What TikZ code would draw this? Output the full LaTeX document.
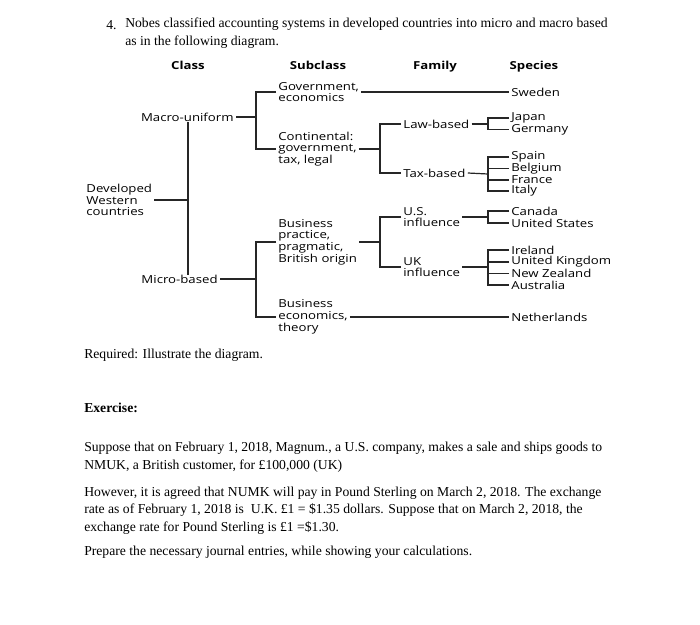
\documentclass[tikz,border=0pt]{standalone}
\usepackage{fontspec}
\setmainfont{Liberation Serif}
\newfontfamily\diag[FakeStretch=1.2]{Open Sans}
\begin{document}
\begin{tikzpicture}[x=0.75pt,y=-0.75pt,
  lbl/.style={font=\diag\fontsize{8.25}{8.8}\selectfont, align=left, inner xsep=1.6pt, inner ysep=0pt},
  hdr/.style={font=\diag\bfseries\fontsize{8.25}{9}\selectfont, inner sep=0pt, anchor=base},
  con/.style={draw=black!85, line width=0.9pt},
  txt/.style={font=\fontsize{10.25}{13.1}\selectfont, align=left, inner sep=0pt, anchor=base west}]
\useasboundingbox[fill=white] (0,0) rectangle (700,625);
% serif text
\node[txt] (num) at (106,29) {4.};
\node[txt] (title) at (125,45) {Nobes classified accounting systems in developed countries into micro and macro based\\as in the following diagram.};
\node[txt] (req) at (84,358) {Required: Illustrate the diagram.};
\node[txt,font=\bfseries\fontsize{10.25}{13.1}\selectfont] (ex) at (84,412) {Exercise:};
\node[txt] (p1) at (84,469) {Suppose that on February 1, 2018, Magnum., a U.S. company, makes a sale and ships goods to\\NMUK, a British customer, for £100,000 (UK)};
\node[txt] (p2) at (84,531) {However, it is agreed that NUMK will pay in Pound Sterling on March 2, 2018. The exchange\\rate as of February 1, 2018 is\ \ U.K. £1 = \$1.35 dollars. Suppose that on March 2, 2018, the\\exchange rate for Pound Sterling is £1 =\$1.30.};
\node[txt] (p3) at (84,555) {Prepare the necessary journal entries, while showing your calculations.};
% headers
\node[hdr] (hc) at (188,69.5) {Class};
\node[hdr] (hs) at (318,69.5) {Subclass};
\node[hdr] (hf) at (435,69.5) {Family};
\node[hdr] (hsp) at (534,69.5) {Species};
% class level
\node[lbl,anchor=west] (dev) at (84,200) {Developed\\Western\\countries};
\node[lbl,anchor=east] (macro) at (236,117) {Macro-uniform};
\node[lbl,anchor=east] (micro) at (220,279) {Micro-based};
% subclass
\node[lbl,anchor=west] (gov) at (276,92) {Government,\\economics};
\node[lbl,anchor=west] (cont) at (276,149) {Continental:\\government,\\tax, legal};
\node[lbl,anchor=west] (bpr) at (276,242) {Business\\practice,\\pragmatic,\\British origin};
\node[lbl,anchor=west] (bec) at (276,317) {Business\\economics,\\theory};
% family
\node[lbl,anchor=west] (law) at (401,124) {Law-based};
\node[lbl,anchor=west] (tax) at (401,173) {Tax-based};
\node[lbl,anchor=west] (us) at (401,217) {U.S.\\influence};
\node[lbl,anchor=west] (uk) at (401,267) {UK\\influence};
% species
\node[lbl,anchor=west] (sweden) at (509,92) {Sweden};
\node[lbl,anchor=west] (japan) at (509,118) {Japan};
\node[lbl,anchor=west] (germany) at (509,129.5) {Germany};
\node[lbl,anchor=west] (spain) at (509,157) {Spain};
\node[lbl,anchor=west] (belgium) at (509,168.5) {Belgium};
\node[lbl,anchor=west] (france) at (509,180) {France};
\node[lbl,anchor=west] (italy) at (509,191) {Italy};
\node[lbl,anchor=west] (canada) at (509,211) {Canada};
\node[lbl,anchor=west] (usa) at (509,223) {United States};
\node[lbl,anchor=west] (ireland) at (509,250) {Ireland};
\node[lbl,anchor=west] (ukd) at (509,262) {United Kingdom};
\node[lbl,anchor=west] (nz) at (509,273.5) {New Zealand};
\node[lbl,anchor=west] (aus) at (509,285) {Australia};
\node[lbl,anchor=west] (neth) at (509,317) {Netherlands};
% junction coordinates
\coordinate (c0) at (188,200);
\coordinate (s1) at (256,117);
\coordinate (s2) at (256,279);
\coordinate (f1) at (380,149);
\coordinate (f2) at (380,242);
\coordinate (b1) at (488,124);
\coordinate (b2) at (488,174);
\coordinate (b3) at (488,217);
\coordinate (b4) at (488,267);
% connectors
\draw[con] (dev.east) -- (c0);
\draw[con] (macro.south -| c0) -- (micro.north -| c0);
\draw[con] (macro.east) -- (s1);
\draw[con] (gov.west) -| (s1) |- (cont.west);
\draw[con] (micro.east) -- (s2);
\draw[con] (bpr.west) -| (s2) |- (bec.west);
\draw[con] (gov.east) -- (sweden.west);
\draw[con] (cont.east) -- (f1);
\draw[con] (law.west) -| (f1) |- (tax.west);
\draw[con] (bpr.east) -- (f2);
\draw[con] (us.west) -| (f2) |- (uk.west);
\draw[con] (bec.east) -- (neth.west);
\draw[con] (law.east) -- (b1);
\draw[con] (japan.west) -| (b1) |- (germany.west);
\draw[con] (tax.east) -- (b2);
\draw[con] (spain.west) -| (b2) |- (italy.west);
\draw[con] (belgium.west) -- (belgium.west -| b2);
\draw[con] (france.west) -- (france.west -| b2);
\draw[con] (us.east) -- (b3);
\draw[con] (canada.west) -| (b3) |- (usa.west);
\draw[con] (uk.east) -- (b4);
\draw[con] (ireland.west) -| (b4) |- (aus.west);
\draw[con] (ukd.west) -- (ukd.west -| b4);
\draw[con] (nz.west) -- (nz.west -| b4);
\end{tikzpicture}
\end{document}
